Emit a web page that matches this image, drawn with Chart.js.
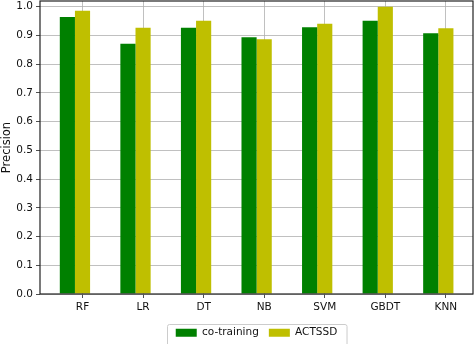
<!DOCTYPE html>
<html>
<head>
<meta charset="utf-8">
<script src="https://cdn.jsdelivr.net/npm/chart.js@4.4.0/dist/chart.umd.min.js"></script>
<style>
  html, body { margin: 0; padding: 0; background: #fff; }
  #wrap { width: 474px; height: 344px; position: relative; }
</style>
</head>
<body>
<div id="wrap"><canvas id="c"></canvas></div>
<script>
// precision per classifier
const categories = ['RF', 'LR', 'DT', 'NB', 'SVM', 'GBDT', 'KNN'];
const coTraining = [0.964, 0.871, 0.927, 0.894, 0.929, 0.951, 0.908];
const actssd = [0.986, 0.927, 0.951, 0.887, 0.941, 1.0, 0.925];
const yTicks = [0, 0.1, 0.2, 0.3, 0.4, 0.5, 0.6, 0.7, 0.8, 0.9, 1.0];

const FONT = 'DejaVu Sans';
const toPts = arr => arr.map((v, i) => ({ x: i, y: v }));

// frame round the plot area, and a box round the legend
const frame = {
  id: 'frame',
  afterDraw(chart) {
    const { ctx, chartArea: a } = chart;
    ctx.save();
    ctx.strokeStyle = '#222';
    ctx.lineWidth = 1.2;
    ctx.strokeRect(a.left, a.top, a.right - a.left, a.bottom - a.top);
    const boxes = chart.legend.legendHitBoxes;
    if (boxes && boxes.length) {
      const l = Math.min(...boxes.map(b => b.left)) - 9;
      const r = Math.max(...boxes.map(b => b.left + b.width)) + 9;
      const t = Math.min(...boxes.map(b => b.top)) - 4;
      ctx.strokeStyle = '#cccccc';
      ctx.lineWidth = 1;
      ctx.beginPath();
      ctx.roundRect(Math.round(l) + 0.5, Math.round(t) + 0.5, r - l, 40, 2);
      ctx.stroke();
    }
    ctx.restore();
  }
};

new Chart(document.getElementById('c'), {
  type: 'bar',
  data: {
    datasets: [
      { label: 'co-training', data: toPts(coTraining), backgroundColor: '#008000' },
      { label: 'ACTSSD', data: toPts(actssd), backgroundColor: '#bfbf00' },
      { label: '', data: [], backgroundColor: 'rgba(0,0,0,0)' }
    ]
  },
  options: {
    responsive: true,
    maintainAspectRatio: false,
    animation: false,
    categoryPercentage: 0.75,
    barPercentage: 1,
    layout: { padding: { top: 1, right: 1, left: 0, bottom: -4 } },
    scales: {
      x: {
        type: 'linear',
        offset: false,
        min: -0.702,
        max: 6.448,
        afterBuildTicks: s => { s.ticks = categories.map((_, i) => ({ value: i })); },
        afterFit: s => { s.height = 23.5; s.paddingLeft = 0; s.paddingRight = 0; },
        ticks: {
          autoSkip: false,
          maxRotation: 0,
          color: '#111',
          font: { family: FONT, size: 10.5 },
          padding: 3,
          callback: v => categories[v]
        },
        grid: { offset: false, color: '#b0b0b0', lineWidth: 0.8, tickLength: 4, tickColor: '#222' },
        border: { display: false }
      },
      y: {
        min: 0,
        max: 1.02,
        afterBuildTicks: s => { s.ticks = yTicks.map(v => ({ value: v })); },
        afterFit: s => { s.width = 40; s.paddingTop = 0; s.paddingBottom = 0; },
        ticks: {
          color: '#111',
          font: { family: FONT, size: 10.5 },
          padding: 3,
          callback: v => v.toFixed(1)
        },
        grid: { color: '#b0b0b0', lineWidth: 0.8, tickLength: 4, tickColor: '#222' },
        border: { display: false },
        title: {
          display: true,
          text: 'Precision',
          color: '#111',
          font: { family: FONT, size: 11.5 },
          padding: { top: 0, bottom: 2 }
        }
      }
    },
    plugins: {
      legend: {
        position: 'bottom',
        fullSize: false,
        labels: {
          boxWidth: 21,
          boxHeight: 8,
          padding: 10,
          color: '#111',
          font: { family: FONT, size: 10.5 },
          filter: item => item.text !== ''
        }
      },
      tooltip: { enabled: false }
    }
  },
  plugins: [frame]
});
</script>
</body>
</html>
